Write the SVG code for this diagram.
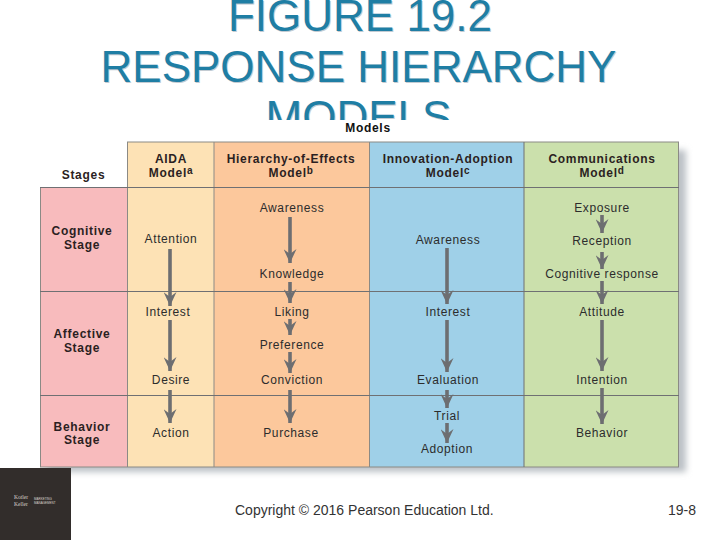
<svg xmlns="http://www.w3.org/2000/svg" width="720" height="540" viewBox="0 0 720 540">
<style>
.t{font-family:"Liberation Sans",Arial,sans-serif}
.title{font-size:44px;fill:#1f7ea4;text-anchor:middle}
.titleS{font-size:44px;fill:#c3cbd2;text-anchor:middle}
.b{font-family:"Liberation Sans",Arial,sans-serif;font-size:12px;font-weight:700;fill:#2b1f22;text-anchor:middle;letter-spacing:.7px}
.n{font-family:"Liberation Sans",Arial,sans-serif;font-size:12px;fill:#2c2c2c;text-anchor:middle;letter-spacing:.6px}
.f{font-family:"Liberation Sans",Arial,sans-serif;font-size:14px;fill:#333}
.l{stroke:#6f7073;stroke-width:1;fill:none}
.v{stroke:#8b8a85;stroke-width:1;fill:none}
.a{stroke:#6d6e71;stroke-width:3.6;fill:none;marker-end:url(#h)}
.s{font-size:10px}
.k{font-family:"Liberation Serif",serif;fill:#d8d2cc;font-size:5.5px}
.m{font-family:"Liberation Sans",Arial,sans-serif;fill:#d8d2cc;font-size:3px}
</style>
<defs>
<marker id="h" markerUnits="userSpaceOnUse" markerWidth="14" markerHeight="13" refX="14" refY="6.5" orient="auto" viewBox="0 0 14 13"><path d="M0 0 L5 6.500 L0 13 L14 6.500Z" fill="#6d6e71"/></marker>
<filter id="blur" x="-5%" y="-5%" width="110%" height="110%"><feGaussianBlur stdDeviation="3"/></filter>
<clipPath id="tc"><rect x="0" y="0" width="720" height="120"/></clipPath>
</defs>
<rect width="720" height="540" fill="#fff"/>
<g id="title" clip-path="url(#tc)">
<g class="t">
<text class="titleS" x="361" y="31.500">FIGURE 19.2</text>
<text class="titleS" x="359.500" y="82.500">RESPONSE HIERARCHY</text>
<text class="titleS" x="359.500" y="132.500">MODELS</text>
<text class="title" x="360" y="30.500">FIGURE 19.2</text>
<text class="title" x="358.500" y="81.500">RESPONSE HIERARCHY</text>
<text class="title" x="358.500" y="131.500">MODELS</text>
</g>
</g>
<text class="b" id="models" x="368" y="132" style="fill:#111">Models</text>
<rect x="48" y="150" width="638" height="322" fill="#bcc1c6" filter="url(#blur)"/>
<rect x="36" y="142" width="91" height="45" fill="#fff"/>
<g id="col-stages"><rect x="40" y="187" width="87" height="280" fill="#f8bbbd"/>
<text class="b" x="83.500" y="179">Stages</text>
<text class="b" x="82" y="235">Cognitive</text><text class="b" x="82" y="249">Stage</text>
<text class="b" x="82" y="338">Affective</text><text class="b" x="82" y="352">Stage</text>
<text class="b" x="82" y="431">Behavior</text><text class="b" x="82" y="444">Stage</text></g>
<g id="col-aida"><rect x="127" y="142" width="87" height="325" fill="#fde2b5"/>
<text class="b" x="171" y="163">AIDA</text><text class="b" x="171" y="177">Model<tspan class="s" dy="-3">a</tspan></text>
<text class="n" x="171" y="243">Attention</text><text class="n" x="168" y="315.500">Interest</text><text class="n" x="171" y="384">Desire</text><text class="n" x="171" y="437">Action</text></g>
<g id="col-hierarchy"><rect x="214" y="142" width="155" height="325" fill="#fcc89c"/>
<text class="b" x="291" y="163">Hierarchy-of-Effects</text><text class="b" x="291" y="177">Model<tspan class="s" dy="-3">b</tspan></text>
<text class="n" x="292" y="212">Awareness</text><text class="n" x="292" y="278">Knowledge</text><text class="n" x="292" y="315.500">Liking</text><text class="n" x="292" y="349">Preference</text><text class="n" x="292" y="384">Conviction</text><text class="n" x="291" y="437">Purchase</text></g>
<g id="col-innovation"><rect x="369" y="142" width="155" height="325" fill="#9fd0e8"/>
<text class="b" x="448" y="163">Innovation-Adoption</text><text class="b" x="448" y="177">Model<tspan class="s" dy="-3">c</tspan></text>
<text class="n" x="448" y="244">Awareness</text><text class="n" x="448" y="315.500">Interest</text><text class="n" x="448" y="384">Evaluation</text><text class="n" x="447" y="420">Trial</text><text class="n" x="447" y="453">Adoption</text></g>
<g id="col-communications"><rect x="524" y="142" width="155" height="325" fill="#cbe0ac"/>
<text class="b" x="602" y="163">Communications</text><text class="b" x="602" y="177">Model<tspan class="s" dy="-3">d</tspan></text>
<text class="n" x="602" y="212">Exposure</text><text class="n" x="602" y="245">Reception</text><text class="n" x="602" y="278">Cognitive response</text><text class="n" x="602" y="315.500">Attitude</text><text class="n" x="602" y="384">Intention</text><text class="n" x="602" y="437">Behavior</text></g>
<g id="grid">
<path class="v" d="M127.500 142V467M214 142V467M40.500 187V467M678.500 142V467M127 142H679M40 467H679"/>
<path class="v" d="M369.500 142V467"/>
<path class="l" d="M524 142V467M40 187.500H679M40 291.500H679M40 395.500H679"/>
</g>
<g id="connectors">
<path class="a" d="M170 249V306"/><path class="a" d="M170 320V371"/><path class="a" d="M170 390V423"/>
<path class="a" d="M290 217V263"/><path class="a" d="M290 282V303"/><path class="a" d="M290 319V335"/><path class="a" d="M290 352V373"/><path class="a" d="M290 390V423"/>
<path class="a" d="M447 248V304"/><path class="a" d="M447 320V372"/><path class="a" d="M447 390V408"/><path class="a" d="M447 423V443"/>
<path class="a" d="M602 215V233"/><path class="a" d="M602 252V269"/><path class="a" d="M602 281V304"/><path class="a" d="M602 320V371"/><path class="a" d="M602 388V424"/>
</g>
<g id="book"><rect x="0" y="468" width="71" height="72" fill="#322d2b"/>
<text class="k" x="14" y="499">Kotler</text><text class="k" x="14" y="506">Keller</text>
<text class="m" x="34" y="500">MARKETING</text><text class="m" x="34" y="504">MANAGEMENT</text></g>
<text class="f" x="235" y="515">Copyright © 2016 Pearson Education Ltd.</text>
<text class="f" x="668" y="515">19-8</text>
</svg>
